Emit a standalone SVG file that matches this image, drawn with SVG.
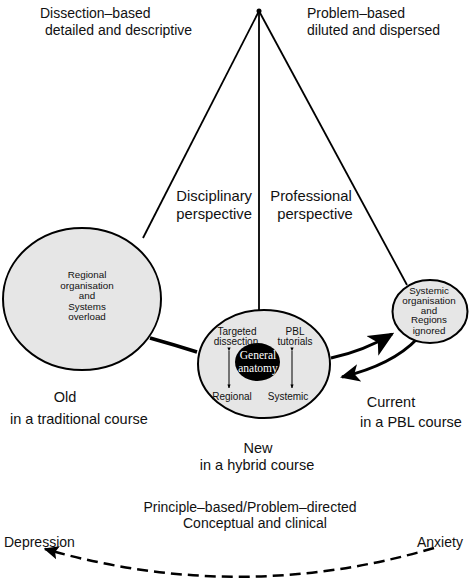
<svg xmlns="http://www.w3.org/2000/svg" width="474" height="579" viewBox="0 0 474 579">
<style>
text{font-family:"Liberation Sans",Arial,sans-serif;fill:#111;}
.l{font-size:14px;}
.k{font-size:14.5px;}
.m{font-size:14.8px;}
.s{font-size:9.8px;text-anchor:middle;}
.t{font-size:10px;text-anchor:middle;}
.r{font-size:9.8px;text-anchor:middle;}
.c{text-anchor:middle;}
.ln{stroke:#000;stroke-width:1.8;fill:none;}
.el{fill:#e6e6e6;stroke:#000;stroke-width:2;}
.g{font-family:"Liberation Serif","Times New Roman",serif;font-size:11.5px;fill:#fff;text-anchor:middle;}
</style>
<defs>
<marker id="big" viewBox="0 0 10 10" refX="9" refY="5" markerWidth="8.5" markerHeight="8.5" orient="auto" markerUnits="strokeWidth"><path d="M0,0.5 L10,5 L0,9.5 L2.5,5 z" fill="#000"/></marker>
<marker id="big2" viewBox="0 0 10 10" refX="9" refY="5" markerWidth="6.5" markerHeight="6.5" orient="auto" markerUnits="strokeWidth"><path d="M0,0.5 L10,5 L0,9.5 L2.5,5 z" fill="#000"/></marker>
<marker id="dh" viewBox="0 0 10 10" refX="9" refY="5" markerWidth="6" markerHeight="6" orient="auto" markerUnits="strokeWidth"><path d="M0,0.5 L10,5 L0,9.5 L2,5 z" fill="#000"/></marker>
<marker id="sm" viewBox="0 0 10 10" refX="9" refY="5" markerWidth="4" markerHeight="4" orient="auto" markerUnits="strokeWidth"><path d="M0,1 L10,5 L0,9 z" fill="#000"/></marker>
</defs>
<g id="connectors">
<circle cx="259" cy="11" r="2.5" fill="#000"/>
<line class="ln" x1="259" y1="11" x2="143" y2="238"/>
<line class="ln" x1="259" y1="11" x2="259" y2="310"/>
<line class="ln" x1="259" y1="11" x2="407" y2="285"/>
<path d="M150,338 Q175,345 197,352" stroke="#000" stroke-width="3.5" fill="none"/>
<path d="M331,358 Q364,351 392,334" stroke="#000" stroke-width="3" fill="none" marker-end="url(#big)"/>
<path d="M417,339 Q392,365 342,377" stroke="#000" stroke-width="3" fill="none" marker-end="url(#big2)"/>
<path d="M434,548 Q240,605 45,549" stroke="#000" stroke-width="2.5" fill="none" stroke-dasharray="11,6" marker-end="url(#dh)"/>
</g>
<g id="top-left">
<text class="l" x="40" y="18">Dissection–based</text>
<text class="l" x="45" y="35">detailed and descriptive</text>
</g>
<g id="top-right">
<text class="l" x="307" y="18">Problem–based</text>
<text class="l" x="307" y="35">diluted and dispersed</text>
</g>
<g id="disciplinary">
<text class="m" x="252" y="201" text-anchor="end">Disciplinary</text>
<text class="m" x="252" y="219" text-anchor="end">perspective</text>
</g>
<g id="professional">
<text class="m c" x="311" y="201">Professional</text>
<text class="m c" x="315" y="219">perspective</text>
</g>
<g id="old">
<ellipse class="el" cx="82" cy="299" rx="79" ry="71"/>
<text class="s" x="87" y="278">Regional</text>
<text class="s" x="87" y="289">organisation</text>
<text class="s" x="87" y="299">and</text>
<text class="s" x="87" y="310">Systems</text>
<text class="s" x="87" y="320">overload</text>
</g>
<g id="new">
<ellipse class="el" cx="264" cy="364" rx="66" ry="54"/>
<ellipse cx="257.5" cy="362" rx="22.5" ry="19" fill="#000"/>
<text class="g" x="258" y="359">General</text>
<text class="g" x="258" y="372">anatomy</text>
<text class="t" x="237" y="335">Targeted</text>
<text class="t" x="236" y="345">dissection</text>
<text class="t" x="295" y="335">PBL</text>
<text class="t" x="295" y="345">tutorials</text>
<text class="t" x="232" y="400">Regional</text>
<text class="t" x="288" y="400">Systemic</text>
<line x1="229" y1="351" x2="229" y2="388" stroke="#000" stroke-width="1" marker-start="url(#sm)" marker-end="url(#sm)"/>
<line x1="292" y1="351" x2="292" y2="388" stroke="#000" stroke-width="1" marker-start="url(#sm)" marker-end="url(#sm)"/>
</g>
<g id="current-node">
<ellipse class="el" cx="430" cy="311.5" rx="37.5" ry="31.5"/>
<text class="r" x="429" y="293.5">Systemic</text>
<text class="r" x="429" y="303.5">organisation</text>
<text class="r" x="429" y="313.5">and</text>
<text class="r" x="429" y="323">Regions</text>
<text class="r" x="429" y="333.5">ignored</text>
</g>
<g id="labels">
<text class="k c" x="65" y="402">Old</text>
<text class="k" x="10" y="424">in a traditional course</text>
<text class="k c" x="391" y="407">Current</text>
<text class="k" x="360" y="427">in a PBL course</text>
<text class="k c" x="258" y="453">New</text>
<text class="k c" x="257" y="470">in a hybrid course</text>
<text class="l c" x="250" y="512">Principle–based/Problem–directed</text>
<text class="l c" x="255" y="528">Conceptual and clinical</text>
<text class="l" x="4" y="547">Depression</text>
<text class="l" x="417" y="547">Anxiety</text>
</g>
</svg>
